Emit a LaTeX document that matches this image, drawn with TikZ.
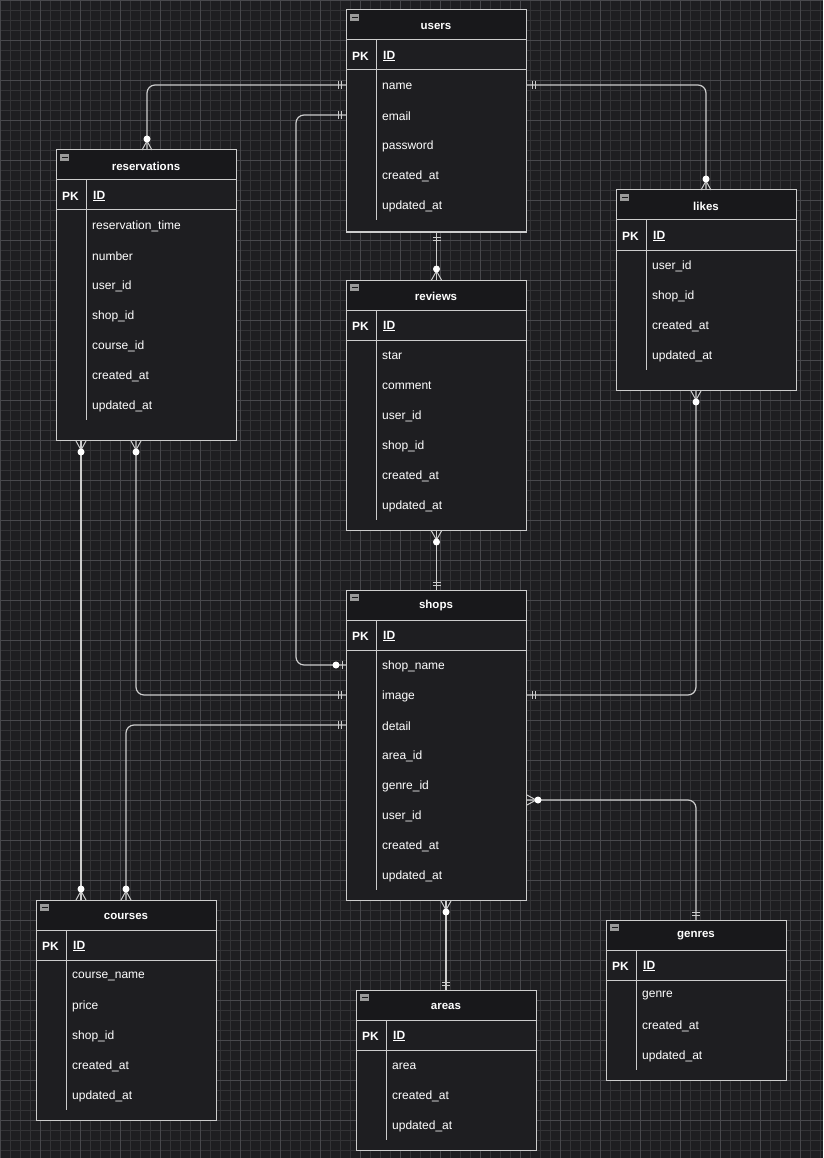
\documentclass[tikz,border=0pt]{standalone}
\usepackage{fontspec}
\setmainfont{Liberation Sans}
\usetikzlibrary{calc}
\begin{document}
\begin{tikzpicture}[x=1pt,y=-1pt,
  tbl/.style={draw=white!80!black, line width=1pt, fill=bgc, inner sep=0pt},
  tline/.style={draw=white!80!black, line width=1pt},
  txt/.style={text=white, font=\fontsize{12}{14}\selectfont, inner sep=0pt, anchor=west},
  ttl/.style={text=white, font=\bfseries\fontsize{11.5}{13}\selectfont, inner sep=0pt},
  con/.style={draw=white!80!black, line width=1.2pt, rounded corners=8pt}]
\definecolor{bgc}{HTML}{1E1E21}
\definecolor{hdc}{HTML}{18181B}
\definecolor{gmin}{HTML}{333336}
\definecolor{gmaj}{HTML}{48484C}
\fill[bgc] (0,0) rectangle (823,1158);
\useasboundingbox (0,0) rectangle (823,1158);
\foreach \g in {0,10,...,1160} {\draw[gmin,line width=0.6pt] (0,\g) -- (823,\g);}
\foreach \g in {0,10,...,820} {\draw[gmin,line width=0.6pt] (\g,0) -- (\g,1158);}
\foreach \g in {0,40,...,1160} {\draw[gmaj,line width=0.7pt] (0,\g) -- (823,\g);}
\foreach \g in {0,40,...,820} {\draw[gmaj,line width=0.7pt] (\g,0) -- (\g,1158);}
\newcommand\erTable[8]{%
  \node[tbl, minimum width=#4pt, minimum height=#5pt, anchor=north west] (#1) at (#2,#3) {};
  \fill[hdc] (#2+0.5,#3+0.5) rectangle (#2+#4-0.5,#3+30);
  \draw[tline] (#2,#3) rectangle (#2+#4,#3+#5);
  \draw[tline] (#2,#3+30) -- ++(#4,0);
  \draw[tline] (#2,#3+60) -- ++(#4,0);
  \draw[tline] (#2+30,#3+30) -- (#2+30,#3+60+30*#8);
  \fill[white!60!black] (#2+4,#3+4) rectangle (#2+13,#3+11);
  \fill[hdc] (#2+5.5,#3+7) rectangle (#2+11.5,#3+8);
  \node[ttl] at (#2+#4/2,#3+16) {#6};
  \node[txt, font=\bfseries\fontsize{12}{14}\selectfont] at (#2+6,#3+46) {PK};
  \node[txt, font=\bfseries\fontsize{12}{14}\selectfont] at (#2+37,#3+46) {\underline{ID}};
  \foreach \r [count=\i] in {#7} {\node[txt] at (#2+36,#3+46+30*\i) {\r};}
}
\erTable{users}{346}{10}{180}{222}{users}{name,email,password,created\_at,updated\_at}{5}
\erTable{reservations}{56}{150}{180}{290}{reservations}{reservation\_time,number,user\_id,shop\_id,course\_id,created\_at,updated\_at}{7}
\erTable{likes}{616}{190}{180}{200}{likes}{user\_id,shop\_id,created\_at,updated\_at}{4}
\erTable{reviews}{346}{280}{180}{250}{reviews}{star,comment,user\_id,shop\_id,created\_at,updated\_at}{6}
\erTable{shops}{346}{590}{180}{310}{shops}{shop\_name,image,detail,area\_id,genre\_id,user\_id,created\_at,updated\_at}{8}
\erTable{courses}{36}{900}{180}{220}{courses}{course\_name,price,shop\_id,created\_at,updated\_at}{5}
\erTable{areas}{356}{990}{180}{160}{areas}{area,created\_at,updated\_at}{3}
\erTable{genres}{606}{920}{180}{160}{genres}{genre,created\_at,updated\_at}{3}
% markers: local x axis points away from the table
\newcommand\mOne[2]{\begin{scope}[shift={(#1)},rotate=#2]
  \draw[white!80!black,line width=1pt] (5,-4) -- (5,4) (8,-4) -- (8,4);\end{scope}}
\newcommand\zMany[2]{\begin{scope}[shift={(#1)},rotate=#2]
  \draw[white!80!black,line width=1pt] (0,-5) -- (9,0) -- (0,5);
  \fill[white] (11,0) circle (3.5);\end{scope}}
\newcommand\zOne[2]{\begin{scope}[shift={(#1)},rotate=#2]
  \draw[white!80!black,line width=1pt] (4,-4) -- (4,4);
  \fill[white] (10,0) circle (3.5);\end{scope}}
% connection points
\coordinate (uL1) at ($(users.north west)+(0,75)$);
\coordinate (uR1) at ($(users.north east)+(0,75)$);
\coordinate (uL2) at ($(users.north west)+(0,105)$);
\coordinate (uB) at (users.south);
\coordinate (rsT) at ($(reservations.north west)+(91,0)$);
\coordinate (rsB1) at ($(reservations.south west)+(25,0)$);
\coordinate (rsB2) at ($(reservations.south west)+(80,0)$);
\coordinate (lkT) at ($(likes.north west)+(90,0)$);
\coordinate (lkB) at ($(likes.south west)+(80,0)$);
\coordinate (rvT) at (reviews.north);
\coordinate (rvB) at (reviews.south);
\coordinate (shT) at (shops.north);
\coordinate (shL1) at ($(shops.north west)+(0,75)$);
\coordinate (shL2) at ($(shops.north west)+(0,105)$);
\coordinate (shL3) at ($(shops.north west)+(0,135)$);
\coordinate (shR2) at ($(shops.north east)+(0,105)$);
\coordinate (shR6) at ($(shops.north east)+(0,210)$);
\coordinate (shB) at ($(shops.south west)+(100,0)$);
\coordinate (coT1) at ($(courses.north west)+(45,0)$);
\coordinate (coT2) at ($(courses.north west)+(90,0)$);
\coordinate (arT) at ($(areas.north west)+(90,0)$);
\coordinate (geT) at ($(genres.north west)+(90,0)$);
% connectors
\draw[con] (uL1) -| (rsT); \mOne{uL1}{180} \zMany{rsT}{90}
\draw[con] (uR1) -| (lkT); \mOne{uR1}{0} \zMany{lkT}{90}
\draw[con] (uL2) -- (296,115) -- (296,665) -- (shL1); \mOne{uL2}{180} \zOne{shL1}{180}
\draw[con] (uB) -- (rvT); \mOne{uB}{-90} \zMany{rvT}{90}
\draw[con] (rvB) -- (shT); \zMany{rvB}{-90} \mOne{shT}{90}
\draw[con] (rsB2) |- (shL2); \zMany{rsB2}{-90} \mOne{shL2}{180}
\draw[con] (rsB1) -- (coT1); \zMany{rsB1}{-90} \zMany{coT1}{90}
\draw[con] (shL3) -| (coT2); \mOne{shL3}{180} \zMany{coT2}{90}
\draw[con] (lkB) |- (shR2); \zMany{lkB}{-90} \mOne{shR2}{0}
\draw[con] (shR6) -| (geT); \zMany{shR6}{0} \mOne{geT}{90}
\draw[con] (shB) -- (arT); \zMany{shB}{-90} \mOne{arT}{90}
\end{tikzpicture}
\end{document}
